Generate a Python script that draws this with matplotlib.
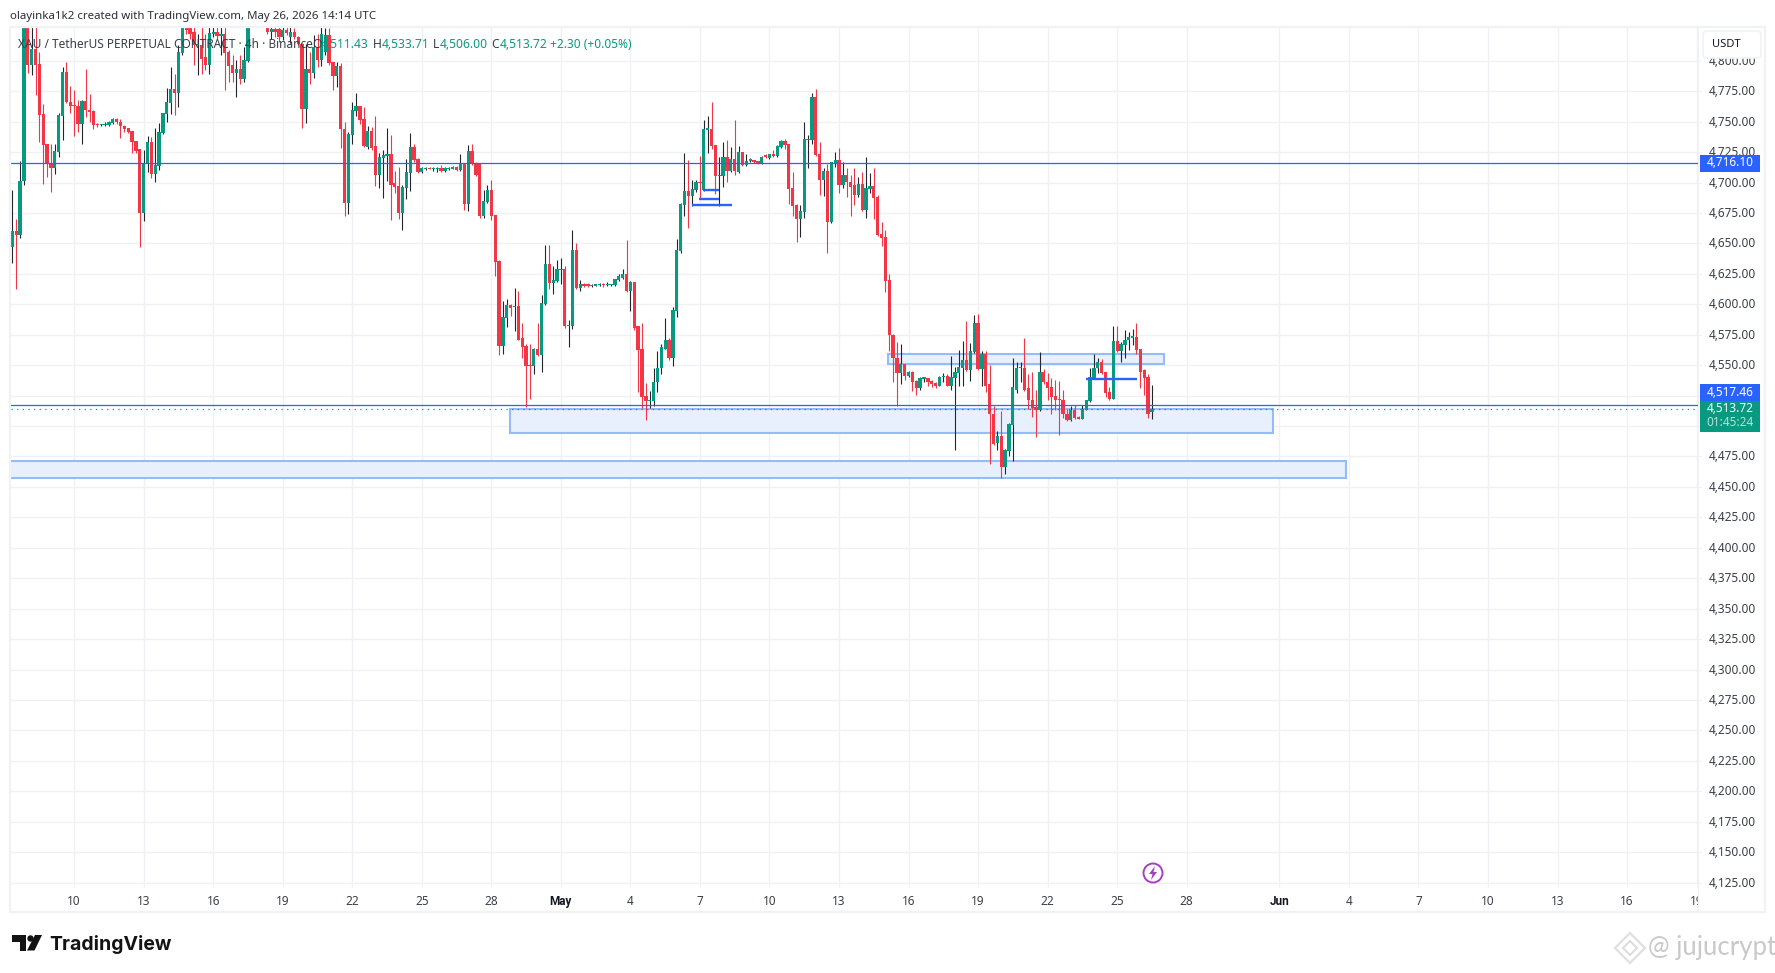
import numpy as np
import matplotlib
matplotlib.use("Agg")
import matplotlib.pyplot as plt
from matplotlib.patches import Rectangle, FancyBboxPatch, Circle, Polygon
from matplotlib.transforms import Bbox, ScaledTranslation

plt.rcParams['font.family'] = ['Noto Sans', 'DejaVu Sans']

# 4h candles, first one is Apr 7 08:00
opens = [4647,4660,4656.6,4701,4835,4796.4,4810,4797,4756,4731.4,
    4715.5,4712,4725.2,4754.7,4790.6,4766.2,4763.2,4763,4748,4766.8,
    4760,4759,4748,4747.3,4747.3,4747.3,4748.7,4752,4750,4746.8,
    4744.6,4742,4734,4727.3,4675,4715.5,4733,4707,4713.4,4740.5,
    4756,4765,4776.6,4773.4,4806.5,4831,4828,4823.5,4812.8,4812.8,
    4803,4796.4,4822,4823.5,4820.2,4822,4807.3,4796.4,4789.8,4793,
    4784.9,4799.7,4835,4842,4838,4845,4836,4823.8,4826,4826,
    4819.7,4825.7,4819.7,4823.5,4819.7,4814,4760.2,4793,4790,4811.4,
    4800.5,4807.3,4821,4798.8,4787.3,4795.5,4743.8,4683.2,4738.8,4758.6,
    4762.7,4752,4729,4742.1,4729.8,4706,4720,4721.6,4723.2,4699.4,
    4697,4674.7,4695.3,4707.6,4729,4719,4708.4,4711.2,4711.7,4711.1,
    4711,4711.7,4709.2,4711,4711.5,4712.5,4710,4715,4682.1,4725.7,
    4715.8,4715,4672.2,4684,4693.6,4673.1,4635.3,4565.4,4588.4,4599.1,
    4597.8,4598.3,4572,4565.4,4549.8,4549,4563.7,4558,4600,4632.8,
    4617.2,4618.8,4628.4,4628.7,4581.8,4581.8,4644.3,4613,4616.4,4616.4,
    4615,4615.4,4615.7,4616.2,4615.6,4615.6,4615.6,4619.6,4622,4624.6,
    4610.6,4618,4581.8,4563,4524.3,4520.2,4520.2,4535.8,4547.3,4563.7,
    4571.1,4556.3,4594.2,4643.5,4681.3,4692.8,4688.7,4693.6,4700.2,4693.6,
    4743.5,4743.8,4730.6,4705.5,4705.1,4720.7,4709.2,4719.1,4708.4,4725,
    4714.2,4718,4718.3,4717.5,4715.8,4722.4,4719.9,4723.2,4721.6,4729,
    4734,4731.4,4695.3,4681.3,4669.8,4675.5,4735.2,4734.7,4770.1,4723.2,
    4701.8,4709.2,4667.3,4715.8,4718.3,4697.7,4706,4700.2,4697.7,4689.5,
    4698.6,4677.2,4694.4,4696.9,4687.9,4657.5,4655,4619.6,4575.2,4556.3,
    4543.2,4550.6,4541.5,4544.8,4537.4,4530.9,4538.9,4539.1,4537.4,4535,
    4533.3,4540.5,4541.5,4533.3,4539.1,4543.2,4547.3,4553.9,4545.7,4560.5,
    4584.3,4547,4559.6,4534.2,4510.3,4485.7,4492.2,4466.2,4479.9,4500.5,
    4530,4547.9,4548.1,4530.9,4521.8,4516,4512.8,4544,4536.6,4531.7,
    4524.3,4522.6,4521.8,4510.3,4504.6,4512.8,4507.8,4506.2,4513.6,4520.2,
    4539.1,4547.3,4553,4544,4527.6,4522.6,4569.5,4561.3,4566.2,4570.3,
    4572.6,4572.8,4563,4545.7,4539.9,4511.43]

highs = [4693.6,4670,4717.5,4845,4842,4835,4830,4807.3,4764.3,4732,
    4732,4732,4757.2,4795,4798.8,4779,4775.8,4767.6,4767.5,4793.6,
    4772.5,4759.5,4749,4748.3,4749.8,4750.6,4753.4,4753.4,4752.5,4747,
    4745,4742.2,4734.2,4727.5,4726.8,4738,4737.2,4744.6,4748.7,4757.5,
    4777.5,4794.7,4789,4812.8,4840,4836,4835,4830,4822,4835,
    4822.4,4832,4832,4833,4832,4830,4808.7,4804.6,4801,4805,
    4811.4,4842,4848,4852,4850,4855,4840,4832,4832,4832,
    4832,4830,4828,4827,4820,4814.5,4814,4807.3,4821,4821.9,
    4828,4827,4827,4799,4798.8,4798.3,4749.5,4741.8,4766,4773.4,
    4763,4761.8,4746.2,4746,4754.4,4724,4726.5,4744.6,4738.8,4709.2,
    4712.5,4698,4719.1,4740.5,4731.4,4720,4712.8,4712.5,4712.5,4713,
    4712.5,4714.2,4713,4713,4714,4714,4723.2,4716,4730.6,4731.4,
    4716.5,4716,4693.6,4697.7,4701.8,4673.5,4636,4602.4,4604,4600,
    4613,4610.6,4584.3,4567,4567,4564.5,4584.3,4607.3,4648.4,4648.4,
    4631.1,4636,4637.7,4631.4,4586.8,4660.7,4650,4619.6,4617.5,4617.2,
    4616.4,4616.6,4617.3,4617.6,4618.3,4617,4621,4624.6,4628.7,4652.5,
    4618.8,4618.5,4582.5,4584.3,4535,4528.4,4548.1,4561.3,4567,4588.4,
    4572,4597.4,4653.3,4683,4724,4718.3,4701.8,4701.8,4721.6,4751.2,
    4754.5,4766,4731,4720.7,4733.1,4734.7,4729,4751.2,4729.8,4725.5,
    4723.2,4720,4718.8,4718,4721.6,4723.2,4723.7,4726.5,4730.5,4734.7,
    4735.5,4732,4708.4,4682.1,4681.3,4749.5,4738.8,4773.4,4776.6,4733.1,
    4711.7,4715,4717,4725,4728.1,4716.6,4711.7,4706,4711.7,4704.3,
    4708.4,4720.7,4707.6,4711.7,4689.5,4667.3,4660.7,4624.6,4576,4568.7,
    4567,4551,4545.2,4545,4538,4539.9,4539.9,4539.5,4537.8,4536.6,
    4541,4543.2,4542.4,4557.2,4548.9,4562.1,4569.5,4585.9,4567.9,4590.9,
    4591.7,4561.3,4561.3,4549.8,4516.1,4496.3,4512,4481,4502.9,4556.3,
    4553,4553,4572,4542.4,4544.8,4530,4560.5,4546.5,4543.2,4539.1,
    4538.2,4537.4,4530,4514.4,4516.1,4517.7,4508.2,4516.9,4521.8,4548.1,
    4558.8,4555.5,4554.7,4544.8,4531.7,4582.6,4582.6,4568.7,4578.5,4576.9,
    4579.4,4584.3,4563.5,4546.5,4542.4,4533.71]

lows = [4634,4612.5,4654.4,4698.3,4790,4788,4771.7,4733.4,4698.6,4704.6,
    4692.3,4707.3,4721,4734.7,4765,4757.2,4738,4741.6,4731.4,4754,
    4749.8,4744,4745.7,4746.8,4746.8,4746.8,4747.9,4748.4,4736.6,4741.6,
    4741,4724.3,4724.3,4647,4668.4,4708.4,4703.8,4700.5,4710,4740,
    4749.8,4756.6,4755.3,4762.1,4804.6,4822,4818,4796.4,4788,4789,
    4792.3,4789,4819.7,4817,4804.6,4775.8,4782.7,4782.7,4770.3,4781.3,
    4782.4,4799,4831,4836,4833,4834,4822,4817.7,4819.7,4815.5,
    4817,4821,4815,4818,4813,4744.9,4748.7,4781.3,4786,4795,
    4795.8,4805,4796.4,4775.8,4778.6,4728.1,4672.5,4674,4732,4754.4,
    4748.4,4729.2,4727.3,4726.5,4697,4695.3,4687,4701,4669,4691.2,
    4669.8,4660.7,4686.2,4692.8,4717.2,4707.6,4707.8,4710.5,4710.8,4709.5,
    4709,4708.7,4708.5,4710,4711,4709.8,4709.8,4677.2,4676.4,4714.2,
    4705,4670.6,4670.6,4683.5,4669,4623,4558,4558.8,4581,4590,
    4577.7,4570.8,4556.3,4515.5,4522.6,4542.4,4557.5,4544,4599.5,4612.2,
    4608.1,4618,4616.4,4580.2,4564.6,4579.4,4612.2,4610.6,4614,4614,
    4614.5,4615,4615,4614.4,4615,4615,4615,4619,4620.5,4609.8,
    4594.2,4579,4527.6,4515.2,4504.6,4515.2,4516.1,4527.6,4542.4,4563,
    4553.9,4549,4589.2,4642,4672.2,4662.4,4681,4692,4686.2,4693,
    4724,4727.9,4690.3,4680.7,4696.1,4700.2,4708.4,4706,4707.6,4713.8,
    4713.8,4716.6,4716,4715.5,4715.5,4720.2,4719.5,4721,4721,4728.5,
    4727.3,4682.1,4672.2,4650.9,4655,4670.6,4711.7,4731.4,4721.6,4689.5,
    4688.7,4641.8,4666.5,4712.5,4691.2,4695.3,4687.9,4672.2,4681.3,4687.9,
    4676.4,4670.6,4691.2,4669.8,4655.8,4647.6,4609.8,4561.3,4535.8,4516.1,
    4534.2,4538.2,4540.7,4528.7,4525.2,4530,4535.8,4532.5,4531.7,4531.1,
    4533,4536.6,4532.5,4530,4480.7,4532.5,4533.3,4545,4537.4,4560,
    4546.2,4533.3,4527.6,4469.2,4484.8,4480.7,4457.2,4460.4,4475.8,4470.9,
    4526.8,4535.8,4529.2,4514.4,4507.8,4491.4,4512.4,4534.2,4521.8,4510.3,
    4513.6,4493,4507,4504.2,4504.2,4506.2,4505.8,4505.8,4512.8,4520,
    4538.8,4543.2,4542.8,4523.5,4521.8,4522,4560.5,4553,4555.5,4562.1,
    4566.2,4558.8,4530.9,4525.2,4507,4506]

closes = [4660,4656.6,4701,4835,4796.4,4810,4796.4,4755.3,4730.6,4715.5,
    4712,4725.7,4755.3,4790.6,4766.2,4763,4762.9,4747.9,4766.8,4759.4,
    4758,4747,4747.3,4748,4748,4749.5,4752,4749.5,4746.2,4743.8,
    4741.6,4733,4725.7,4675,4716.4,4733,4707,4714.2,4741.3,4757,
    4766,4776.6,4773.4,4807,4831,4825,4822.4,4812.8,4814,4801.9,
    4796.4,4822.7,4823.5,4820.2,4822,4806.5,4795.8,4789.8,4793,4784.9,
    4800.5,4835,4842,4838,4845,4836,4823.5,4826,4823.8,4819.7,
    4825.7,4823,4823.5,4819.7,4814,4760.2,4793,4790,4811.4,4800.5,
    4821.9,4821,4798,4787.3,4795.5,4743.8,4683.2,4739.7,4759.4,4762.7,
    4751.2,4729.8,4742.1,4728.1,4706,4720.7,4722.4,4723.2,4697.7,4696,
    4674.7,4696,4708.4,4729,4718.3,4708.4,4711.7,4711.7,4711.2,4711.7,
    4711.5,4709.2,4711.7,4711.7,4712.3,4710,4715,4682.1,4725.7,4715,
    4706,4672.2,4684.6,4693.6,4672.2,4634.7,4565.4,4589.2,4599.1,4596.6,
    4598.3,4571.1,4564.6,4549,4549.2,4563.7,4558,4600.7,4632.8,4617.2,
    4619.6,4628.7,4628.7,4581.8,4582.6,4644.3,4613,4616.4,4615,4615,
    4615.6,4615.9,4616.2,4615.6,4616,4616,4620.5,4623,4624.6,4610.6,
    4618,4580.2,4562.1,4523.5,4520.2,4521,4536.6,4548.1,4564.6,4571.1,
    4556.3,4595,4644.3,4682.1,4692.8,4688.7,4694.4,4700.2,4699.4,4743.8,
    4743.8,4729.8,4705.1,4706,4720.7,4709.2,4719.1,4709.2,4725,4714.2,
    4717.5,4718.5,4716.6,4715.8,4720.7,4721,4723.2,4721.6,4729.8,4734,
    4730.6,4694.4,4680.5,4669.8,4676.4,4735.5,4735.5,4770.1,4722.4,4701.8,
    4709.2,4667.3,4716.6,4718.3,4697.7,4706,4700.2,4696.1,4689.5,4698.6,
    4677.2,4695.3,4696.9,4687,4656.6,4654.2,4618.8,4574.4,4555.5,4543.2,
    4550.6,4541.5,4544.8,4536.6,4530.9,4539.1,4539.2,4536.6,4534.2,4533.3,
    4540.7,4540.9,4533.3,4539.9,4544,4548.9,4553.9,4545.7,4561.3,4584.3,
    4547,4559.6,4533.3,4509.5,4485.4,4492.2,4466.2,4480.7,4501.3,4531.7,
    4548.1,4548.3,4530,4521,4514.7,4512.8,4544,4535.8,4530.9,4523.5,
    4521.8,4521.3,4509.5,4504.6,4512.8,4507,4506.2,4514.4,4521,4539.9,
    4548.1,4553,4543.2,4526.8,4522.6,4569.5,4561.3,4567,4571.1,4572.8,
    4573,4562.1,4544.8,4539.1,4510.3,4513.72]

# axis ticks, positions are candle numbers
tick_idx = [16,34,52,70,88,106,124,142,160,178,196,214,232,250,268,286,304,
            328,346,364,382,400,418,436]
tick_txt = ['10','13','16','19','22','25','28','May','4','7','10','13','16','19',
            '22','25','28','Jun','4','7','10','13','16','19']
price_ticks = list(range(4125, 4825, 25))
# these two sit behind the price tags in the original
hidden_prices = [4500, 4525]

# horizontal levels
alert_level = 4716.10
ref_level = 4517.46
last_close = 4513.72

# drawn zones: start candle, end candle, low, high
zone_start = [128.8, -1, 226.8]
zone_end = [326.3, 345.2, 298.1]
zone_low = [4494.7, 4457.0, 4551.2]
zone_high = [4514.0, 4470.9, 4559.0]

# short blue segments
seg_start = [178.8, 177.8, 175.9, 277.9]
seg_end = [183.0, 183.0, 186.2, 291.2]
seg_price = [4693.9, 4686.5, 4681.6, 4538.7]

GREEN = '#089981'
RED = '#f23645'
WICK_UP = '#22252d'
BLUE = '#2962ff'
GRID = '#f0f1f4'
FRAME = '#f1f2f5'
TXT = '#3a3e48'

W, H = 1775, 973
fig = plt.figure(figsize=(W / 100, H / 100), dpi=100, facecolor='white')
ax = fig.add_axes([11 / W, 1 - 882.7 / H, (1698 - 11) / W, (882.7 - 27) / H])
ax.set_xlim(-0.344, 436.36)
ax.set_ylim(4124.9, 4827.8)

ax.set_xticks(tick_idx)
ax.set_xticklabels(tick_txt)
ax.set_yticks(price_ticks)
ax.set_yticklabels(['' if p in hidden_prices else f'{p:,.2f}' for p in price_ticks])
ax.yaxis.tick_right()
ax.grid(True, color=GRID, lw=1)
ax.set_axisbelow(True)
ax.tick_params(axis='y', length=2, color=GRID, labelcolor=TXT, labelsize=8.5, pad=6)
ax.tick_params(axis='x', length=3, color=GRID, labelcolor=TXT, labelsize=8.5, pad=6)
for s in ax.spines.values():
    s.set_color(GRID)
ax.spines['top'].set_visible(False)
ax.spines['left'].set_visible(False)

# price labels sit a pixel above their grid line
up_1px = ScaledTranslation(0, 1 / 100, fig.dpi_scale_trans)
for lab in ax.get_yticklabels():
    lab.set_transform(lab.get_transform() + up_1px)

# the last label gets cut by the price scale
clip = Bbox([[0, 0], [1698, H]])
for lab, txt in zip(ax.get_xticklabels(), tick_txt):
    lab.set_clip_on(True)
    lab.set_clip_box(clip)
    if txt in ('May', 'Jun'):
        lab.set_fontfamily('Roboto')
        lab.set_fontweight('bold')
        lab.set_color('#131722')

# zones go under the candles
for x0, x1, lo, hi in zip(zone_start, zone_end, zone_low, zone_high):
    ax.add_patch(Rectangle((x0, lo), x1 - x0, hi - lo, facecolor='#e9f0fd',
                           edgecolor='#93bdf8', lw=1.5, zorder=2))

# candles
o = np.array(opens)
h = np.array(highs)
l = np.array(lows)
c = np.array(closes)
x = np.arange(len(o))
up = c >= o
ax.vlines(x[up], l[up], h[up], color=WICK_UP, lw=0.8, zorder=3)
ax.vlines(x[~up], l[~up], h[~up], color=RED, lw=0.8, zorder=3)
body_lo = np.minimum(o, c)
body_h = np.maximum(np.abs(c - o), 1.0)
ax.bar(x[up], body_h[up], bottom=body_lo[up], width=0.85, color=GREEN, lw=0, zorder=4)
ax.bar(x[~up], body_h[~up], bottom=body_lo[~up], width=0.85, color=RED, lw=0, zorder=4)

# levels and segments
ax.axhline(alert_level, color=BLUE, lw=0.9, zorder=5)
ax.axhline(ref_level, color=BLUE, lw=0.9, zorder=5)
ax.axhline(last_close, color=GREEN, lw=0.9, ls=(0, (1, 3.5)), zorder=5)
ax.hlines(seg_price, seg_start, seg_end, color=BLUE, lw=1.7, zorder=5)

# everything around the plot is placed in pixels on a full figure layer
ov = fig.add_axes([0, 0, 1, 1], facecolor='none')
ov.set_xlim(0, W)
ov.set_ylim(H, 0)
ov.axis('off')

ov.add_patch(Rectangle((10, 27), 1754.5, 885, fill=False, edgecolor=FRAME, lw=1.6))
ov.plot([1698, 1698], [882, 912], color=GRID, lw=1)
ov.text(10, 17, 'olayinka1k2 created with TradingView.com, May 26, 2026 14:14 UTC',
        fontsize=8.25, color='#2a2e39', va='center')

# legend row
hy = 44.5
ov.text(18, hy, 'XAU / TetherUS PERPETUAL CONTRACT · 4h · Binance', fontsize=8.55,
        color=TXT, va='center')
for px, letter, pv, val in [(312, 'O', 321, '4,511.43'), (372.5, 'H', 382, '4,533.71'),
                            (433, 'L', 440, '4,506.00'), (491.5, 'C', 500, '4,513.72')]:
    ov.text(px, hy, letter, fontsize=8.7, color=TXT, va='center')
    ov.text(pv, hy, val, fontsize=8.7, color=GREEN, va='center')
ov.text(550, hy, '+2.30 (+0.05%)', fontsize=8.55, color=GREEN, va='center')

# currency button
ov.add_patch(FancyBboxPatch((1703, 31), 58, 27, boxstyle='round,pad=0,rounding_size=4',
                            facecolor='white', edgecolor=FRAME, lw=1.2, zorder=6))
ov.text(1712, 44.5, 'USDT', fontsize=8, color='#131722', va='center', zorder=7)

# price tags on the scale
ov.add_patch(Rectangle((1700, 155), 60, 17, facecolor=BLUE, lw=0, zorder=6))
ov.text(1754, 163, '4,716.10', color='white', fontsize=8.5, ha='right', va='center', zorder=7)
ov.add_patch(Rectangle((1700, 384), 60, 17.5, facecolor=BLUE, lw=0, zorder=6))
ov.text(1754, 392, '4,517.46', color='white', fontsize=8.5, ha='right', va='center', zorder=7)
ov.add_patch(Rectangle((1700, 401), 60, 31, facecolor=GREEN, lw=0, zorder=6))
ov.text(1754, 409, '4,513.72', color='white', fontsize=8.5, ha='right', va='center', zorder=7)
ov.text(1754, 423, '01:45:24', color='#b5e0d8', fontsize=8.5, ha='right', va='center', zorder=7)

# lightning marker
ov.add_patch(Circle((1153, 873), 9.5, fill=False, edgecolor='#a83fbf', lw=1.4))
ov.add_patch(Polygon([(1155, 866), (1149, 874), (1152.5, 874), (1151, 880),
                      (1157, 872), (1153.5, 872)], color='#a83fbf', lw=0))

# TradingView logo
logo = '#131313'
ov.add_patch(Polygon([(12, 935), (26, 935), (26, 950.5), (19.5, 950.5), (19.5, 942), (12, 942)],
                     color=logo, lw=0))
ov.add_patch(Circle((30.5, 938.5), 3.2, color=logo, lw=0))
ov.add_patch(Polygon([(35, 935), (42, 935), (34.5, 950.5), (27, 950.5)], color=logo, lw=0))
ov.text(49, 944, 'TradingView', fontsize=14, fontweight='bold', family='Inter',
        color=logo, va='center')

# watermark
wm = '#c9c9c9'
ov.add_patch(Polygon([(1630, 933), (1645, 948), (1630, 963), (1615, 948)], fill=False,
                     edgecolor='#e0e0e0', lw=1.6))
ov.add_patch(Polygon([(1630, 941), (1637, 948), (1630, 955), (1623, 948)], fill=False,
                     edgecolor='#dcdcdc', lw=1.4))
ov.text(1648, 947, '@ jujucrypt', fontsize=18.5, color=wm, family='Lato', va='center',
        clip_on=True)

fig.savefig('out.png', dpi=100, facecolor='white')
